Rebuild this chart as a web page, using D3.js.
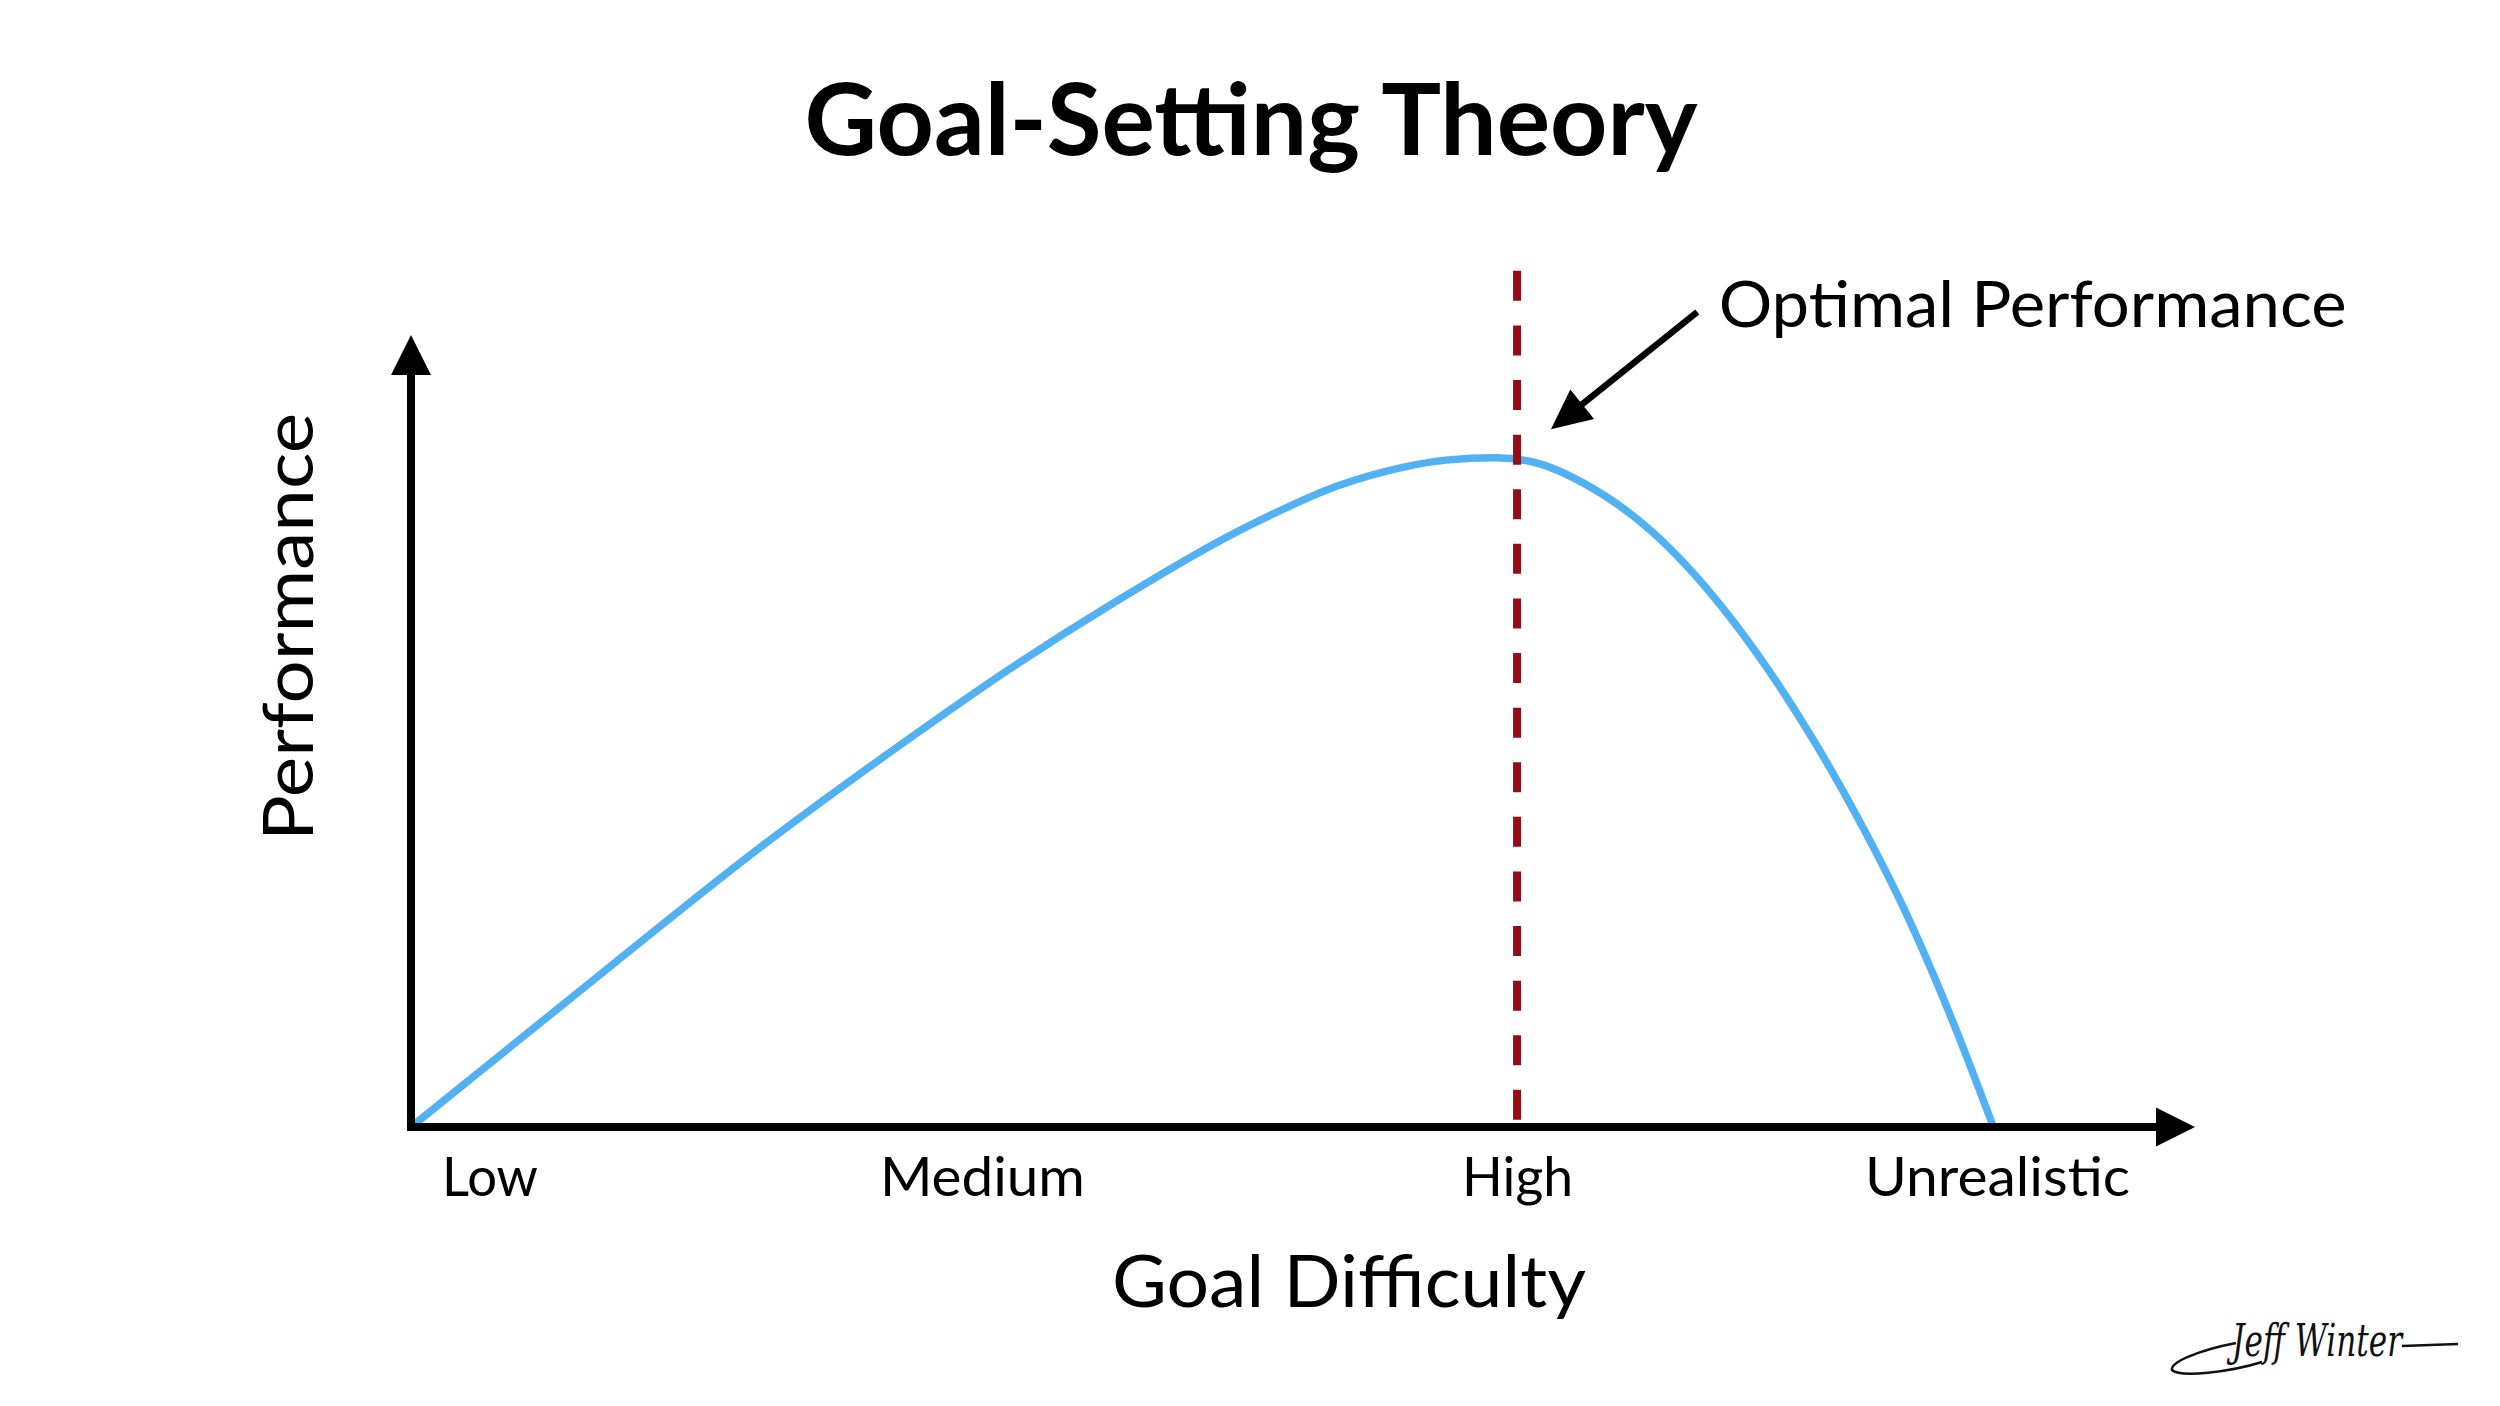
<!DOCTYPE html>
<html>
<head>
<meta charset="utf-8">
<script src="https://cdn.jsdelivr.net/npm/d3@7"></script>
<style>
  html, body { margin: 0; padding: 0; background: #ffffff; }
  svg { display: block; }
</style>
</head>
<body>
<script>
// ---------- data ----------
const chartTitle = "Goal-Setting Theory";
const xTitle = "Goal Difficulty";
const yTitle = "Performance";
const xTickLabels = ["Low", "Medium", "High", "Unrealistic"];
const xTickPositions = [4.4, 32.0, 62.0, 88.9];
const curveX = [0, 11.4, 19.4, 27.4, 33.4, 39.4, 47.4, 52.0, 55.4, 58.0, 60.8, 63.0, 65.8, 69.6, 73.4, 76.0, 78.6, 81.2, 83.7, 86.3, 88.7];
const curveY = [0, 20.7, 35.0, 48.2, 57.6, 66.2, 76.4, 81.0, 83.2, 84.2, 84.5, 83.9, 81.2, 75.1, 65.9, 58.0, 48.9, 38.6, 27.5, 14.0, 0];
const optimalX = 62.0;
const optimalLabel = "Optimal Performance";
const signature = "Jeff Winter";

// ---------- layout ----------
const W = 2500, H = 1406;
const svg = d3.select("body").append("svg")
  .attr("width", W).attr("height", H)
  .attr("viewBox", `0 0 ${W} ${H}`);
svg.append("rect").attr("width", W).attr("height", H).attr("fill", "#ffffff");

const x = d3.scaleLinear().domain([0, 100]).range([411, 2195]);
const y = d3.scaleLinear().domain([0, 100]).range([1127, 335]);

const FONT = "Lato, 'Open Sans', 'Noto Sans', sans-serif";

// ---------- title ----------
svg.append("text")
  .attr("x", 1251).attr("y", 155)
  .attr("text-anchor", "middle")
  .attr("font-family", FONT).attr("font-weight", 700)
  .attr("font-size", 100)
  .attr("textLength", 893).attr("lengthAdjust", "spacingAndGlyphs")
  .attr("fill", "#000")
  .text(chartTitle);

// ---------- curve ----------
const pts = curveX.map((d, i) => [d, curveY[i]]);
svg.append("path")
  .datum(pts)
  .attr("fill", "none")
  .attr("stroke", "#52b1f3")
  .attr("stroke-width", 7.5)
  .attr("stroke-linecap", "round")
  .attr("d", d3.line().x(d => x(d[0])).y(d => y(d[1])).curve(d3.curveMonotoneX));

// ---------- optimal dashed line ----------
svg.append("line")
  .attr("x1", x(optimalX)).attr("x2", x(optimalX))
  .attr("y1", y(108.1)).attr("y2", y(0))
  .attr("stroke", "#930c16")
  .attr("stroke-width", 8)
  .attr("stroke-dasharray", "30 24.6");

// ---------- axes ----------
const x0 = x(0), y0 = y(0);
const xEnd = x.range()[1], yEnd = y.range()[1];
const ax = svg.append("g");
ax.append("line")
  .attr("x1", x0 - 4).attr("x2", xEnd - 36)
  .attr("y1", y0).attr("y2", y0)
  .attr("stroke", "#000").attr("stroke-width", 8);
ax.append("line")
  .attr("x1", x0).attr("x2", x0)
  .attr("y1", y0 + 4).attr("y2", yEnd + 36)
  .attr("stroke", "#000").attr("stroke-width", 8);
// arrowheads
ax.append("path")
  .attr("d", `M${xEnd},${y0} L${xEnd - 39},${y0 - 19.5} L${xEnd - 39},${y0 + 19.5} Z`)
  .attr("fill", "#000");
ax.append("path")
  .attr("d", `M${x0},${yEnd} L${x0 - 20},${yEnd + 40} L${x0 + 20},${yEnd + 40} Z`)
  .attr("fill", "#000");

// ---------- x tick labels via d3 axis ----------
const tickWidths = { "Low": 96, "Medium": 205, "High": 111, "Unrealistic": 265 };
const xAxis = d3.axisBottom(x)
  .tickValues(xTickPositions)
  .tickFormat((d, i) => xTickLabels[i])
  .tickSize(0);
const gx = svg.append("g")
  .attr("transform", `translate(0,${y0})`)
  .call(xAxis);
gx.select(".domain").remove();
gx.selectAll(".tick line").remove();
gx.selectAll(".tick text")
  .attr("y", 69).attr("dy", 0)
  .attr("font-family", FONT)
  .attr("font-size", 54)
  .attr("fill", "#000")
  .attr("textLength", (d, i) => tickWidths[xTickLabels[i]])
  .attr("lengthAdjust", "spacingAndGlyphs");

// ---------- axis titles ----------
svg.append("text")
  .attr("x", 1349).attr("y", 1307)
  .attr("text-anchor", "middle")
  .attr("font-family", FONT).attr("font-size", 71)
  .attr("textLength", 474).attr("lengthAdjust", "spacingAndGlyphs")
  .attr("fill", "#000")
  .text(xTitle);

svg.append("text")
  .attr("transform", "translate(313,627) rotate(-90)")
  .attr("text-anchor", "middle")
  .attr("font-family", FONT).attr("font-size", 70)
  .attr("textLength", 428).attr("lengthAdjust", "spacingAndGlyphs")
  .attr("fill", "#000")
  .text(yTitle);

// ---------- annotation ----------
const tail = [x(72.1), y(102.9)];
const tip = [x(63.9), y(88.1)];
const dx = tip[0] - tail[0], dy = tip[1] - tail[1];
const len = Math.hypot(dx, dy);
const ux = dx / len, uy = dy / len;
const headL = 40, headW = 19;
const baseC = [tip[0] - ux * headL, tip[1] - uy * headL];
svg.append("line")
  .attr("x1", tail[0]).attr("y1", tail[1])
  .attr("x2", baseC[0] + ux * 4).attr("y2", baseC[1] + uy * 4)
  .attr("stroke", "#000").attr("stroke-width", 6.5);
svg.append("path")
  .attr("d", `M${tip[0]},${tip[1]} L${baseC[0] - uy * headW},${baseC[1] + ux * headW} L${baseC[0] + uy * headW},${baseC[1] - ux * headW} Z`)
  .attr("fill", "#000");

svg.append("text")
  .attr("x", x(73.3)).attr("y", 327)
  .attr("font-family", FONT).attr("font-size", 64)
  .attr("textLength", 628).attr("lengthAdjust", "spacingAndGlyphs")
  .attr("fill", "#000")
  .text(optimalLabel);

// ---------- signature ----------
const sig = svg.append("g");
sig.append("text")
  .attr("x", 2232).attr("y", 1356)
  .attr("font-family", "'DejaVu Serif', serif")
  .attr("font-style", "italic")
  .attr("font-weight", 300)
  .attr("font-size", 44)
  .attr("textLength", 170).attr("lengthAdjust", "spacingAndGlyphs")
  .attr("fill", "#111")
  .text(signature);
sig.append("path")
  .attr("d", "M2236,1343 C2200,1350 2170,1362 2172,1370 C2180,1378 2230,1372 2262,1362")
  .attr("fill", "none").attr("stroke", "#111").attr("stroke-width", 2.5);
sig.append("path")
  .attr("d", "M2402,1346 L2458,1344")
  .attr("fill", "none").attr("stroke", "#111").attr("stroke-width", 2.5);
</script>
</body>
</html>
